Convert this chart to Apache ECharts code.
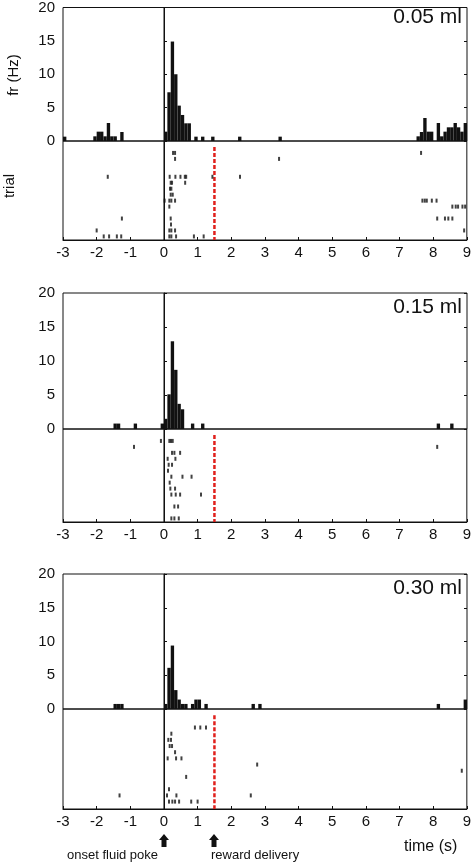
<!DOCTYPE html>
<html><head><meta charset="utf-8">
<script src="https://cdn.jsdelivr.net/npm/echarts@6/dist/echarts.min.js"></script>
<style>html,body{margin:0;background:#fff}#c{width:474px;height:867px}</style>
</head><body><div id="c"></div>
<script>
// histogram bins: [bin start (s), rate (Hz)], bin width 0.1 s
var binWidth = 0.1;
var hist005 = [[-3.0,0.65],[-2.1,0.7],[-2.0,1.4],[-1.9,1.4],[-1.8,0.7],[-1.7,2.7],[-1.6,0.7],[-1.5,0.7],[-1.3,1.35],
  [0.0,1.4],[0.1,7.3],[0.2,14.9],[0.3,10],[0.4,5.3],[0.5,3.9],[0.6,2.65],[0.7,2.65],[0.9,0.65],[1.1,0.65],[1.4,0.65],[2.2,0.65],[3.4,0.65],
  [7.5,0.7],[7.6,1.35],[7.7,3.45],[7.8,1.4],[7.9,1.4],[8.1,2.7],[8.2,0.7],[8.3,1.4],[8.4,2.05],[8.5,2.05],[8.6,2.7],[8.7,2.05],[8.8,1.4],[8.9,2.7]];
var hist015 = [[-1.5,0.8],[-1.4,0.8],[-0.9,0.8],[-0.1,0.8],[0.0,1.5],[0.1,5.1],[0.2,12.9],[0.3,8.7],[0.4,3.7],[0.5,2.9],[0.8,0.8],[1.1,0.8],[8.1,0.8],[8.5,0.8]];
var hist030 = [[-1.5,0.75],[-1.4,0.75],[-1.3,0.75],[0.0,0.75],[0.1,6.1],[0.2,9.4],[0.3,2.8],[0.4,1.4],[0.5,0.75],[0.6,0.75],[0.8,0.75],[0.9,1.4],[1.0,1.4],[1.2,0.75],[2.6,0.75],[2.8,0.75],[8.1,0.75],[8.9,1.4]];

// raster spikes: [time (s), trial]
var spikes005 = [[0.27,2],[0.33,2],[7.64,2],[0.33,3],[3.42,3],
  [-1.67,6],[0.17,6],[0.34,6],[0.49,6],[0.62,6],[0.66,6],[1.44,6],[2.26,6],
  [0.2,7],[0.24,7],[0.63,7],[0.18,8],[0.22,8],[0.2,9],[0.26,9],
  [0.02,10],[0.16,10],[0.22,10],[0.33,10],[7.68,10],[7.75,10],[7.81,10],[7.96,10],[8.1,10],
  [0.16,11],[8.57,11],[8.67,11],[8.74,11],[8.87,11],[8.95,11],
  [-1.25,13],[0.2,13],[8.12,13],[8.35,13],[8.45,13],[8.57,13],[0.21,14],
  [-2.0,15],[0.16,15],[0.22,15],[0.33,15],[8.92,15],
  [-1.79,16],[-1.63,16],[-1.4,16],[-1.27,16],[0.16,16],[0.22,16],[0.36,16],[0.89,16],[1.18,16]];
var spikes015 = [[-0.09,2],[0.16,2],[0.21,2],[0.26,2],[-0.89,3],[8.12,3],[0.24,4],[0.31,4],[0.48,4],
  [0.11,5],[0.34,5],[0.14,6],[0.24,6],[0.12,7],[0.22,8],[0.55,8],[0.82,8],[0.17,9],[0.19,10],[0.33,10],
  [0.22,11],[0.35,11],[0.48,11],[1.1,11],[0.31,13],[0.42,13],[0.22,15],[0.31,15],[0.44,15]];
var spikes030 = [[0.92,3],[1.08,3],[1.25,3],[0.22,4],[0.13,5],[0.21,5],[0.17,6],[0.24,6],[0.33,7],
  [0.11,8],[0.36,8],[0.52,8],[2.77,9],[8.85,10],[0.66,11],[0.15,13],[-1.32,14],[0.09,14],[0.37,14],[2.58,14],
  [0.15,15],[0.25,15],[0.33,15],[0.45,15],[0.81,15],[1.0,15]];

var panelLabels = ['0.05 ml', '0.15 ml', '0.30 ml'];
var rewardTime = 1.5;

var hists = [hist005, hist015, hist030];
var rasters = [spikes005, spikes015, spikes030];
var trialMax = [16.6, 15.6, 16.2];
var layout = [ // [histTop, histHeight, rasterHeight]
  [3, 138, 99], [293, 136, 93], [574, 135, 100]];

var grid = [], xAxis = [], yAxis = [], series = [];
var font = 'Liberation Sans, Arial, sans-serif';

layout.forEach(function (l, p) {
  var gh = p * 2, gr = p * 2 + 1;
  grid.push({left: 63, right: 7, top: l[0], height: l[1], show: true, borderColor: '#111', borderWidth: 1});
  grid.push({left: 63, right: 7, top: l[0] + l[1], height: l[2], show: true, borderColor: '#111', borderWidth: 1});
  xAxis.push({type: 'value', gridIndex: gh, min: -3, max: 9, interval: 1, axisLabel: {show: false},
    axisTick: {show: false}, axisLine: {show: false}, splitLine: {show: false}});
  xAxis.push({type: 'value', gridIndex: gr, min: -3, max: 9, interval: 1,
    axisLine: {show: true, onZero: false, lineStyle: {color: '#111'}},
    axisTick: {inside: true, length: 3, lineStyle: {color: '#111'}},
    axisLabel: {color: '#111', fontSize: 15, fontFamily: font, margin: 5}, splitLine: {show: false}});
  yAxis.push({type: 'value', gridIndex: gh, min: 0, max: 20, interval: 5,
    axisLine: {show: true, lineStyle: {color: '#111'}},
    axisTick: {inside: true, length: 3, lineStyle: {color: '#111'}},
    axisLabel: {color: '#111', fontSize: 15, fontFamily: font, margin: 8}, splitLine: {show: false}});
  yAxis.push({type: 'value', gridIndex: gr, min: 0, max: trialMax[p], inverse: true,
    axisLine: {show: true, lineStyle: {color: '#111'}}, axisTick: {show: false},
    axisLabel: {show: false}, splitLine: {show: false}});
  yAxis.push({type: 'value', gridIndex: gh, position: 'right', min: 0, max: 20, interval: 5,
    axisLine: {show: false}, axisTick: {inside: true, length: 3, lineStyle: {color: '#111'}},
    axisLabel: {show: false}, splitLine: {show: false}});

  var yh = p * 3, yr = p * 3 + 1;
  series.push({
    type: 'custom', xAxisIndex: gh, yAxisIndex: yh,
    data: hists[p].map(function (d) { return [d[0], d[0] + binWidth, d[1]]; }),
    encode: {x: [0, 1], y: 2},
    renderItem: function (params, api) {
      var a = api.coord([api.value(0), api.value(2)]);
      var b = api.coord([api.value(1), 0]);
      return {type: 'rect', shape: {x: a[0], y: a[1], width: b[0] - a[0], height: b[1] - a[1]}, style: {fill: '#111'}};
    },
    silent: true
  });
  // onset line
  series.push({type: 'line', xAxisIndex: gh, yAxisIndex: yh, data: [[0, 0], [0, 20]], symbol: 'none',
    lineStyle: {color: '#111', width: 1}, silent: true});
  series.push({type: 'line', xAxisIndex: gr, yAxisIndex: yr, data: [[0, 0], [0, trialMax[p]]], symbol: 'none',
    lineStyle: {color: '#111', width: 1}, silent: true});
  // reward delivery
  series.push({type: 'line', xAxisIndex: gr, yAxisIndex: yr, data: [[rewardTime, 1], [rewardTime, trialMax[p]]], symbol: 'none',
    lineStyle: {color: '#e0201c', width: 2.5, type: [4, 2]}, silent: true, z: 3});
  series.push({type: 'scatter', xAxisIndex: gr, yAxisIndex: yr, data: rasters[p], symbol: 'rect',
    symbolSize: [2, 4], itemStyle: {color: '#111'}, silent: true, z: 4});
});

var graphic = [];
layout.forEach(function (l, p) {
  graphic.push({type: 'text', right: 12, top: l[0] + 4, style: {text: panelLabels[p], font: '21px ' + font, fill: '#111'}});
});
graphic.push({type: 'text', x: 14, y: 75, rotation: Math.PI / 2,
  style: {text: 'fr (Hz)', font: '15px ' + font, fill: '#111', align: 'center', verticalAlign: 'middle'}});
graphic.push({type: 'text', x: 10, y: 186, rotation: Math.PI / 2,
  style: {text: 'trial', font: '15px ' + font, fill: '#111', align: 'center', verticalAlign: 'middle'}});
graphic.push({type: 'text', left: 404, top: 839, style: {text: 'time (s)', font: '16px ' + font, fill: '#111'}});
graphic.push({type: 'text', left: 67, top: 849, style: {text: 'onset fluid poke', font: '13px ' + font, fill: '#111'}});
graphic.push({type: 'text', left: 211, top: 849, style: {text: 'reward delivery', font: '13px ' + font, fill: '#111'}});
[164, 214].forEach(function (x) {
  graphic.push({type: 'polygon', shape: {points: [[x, 834], [x + 5, 840], [x + 2.5, 840], [x + 2.5, 847], [x - 2.5, 847], [x - 2.5, 840], [x - 5, 840]]},
    style: {fill: '#111'}});
});

var chart = echarts.init(document.getElementById('c'));
chart.setOption({animation: false, grid: grid, xAxis: xAxis, yAxis: yAxis, series: series, graphic: graphic});
</script>
</body></html>
